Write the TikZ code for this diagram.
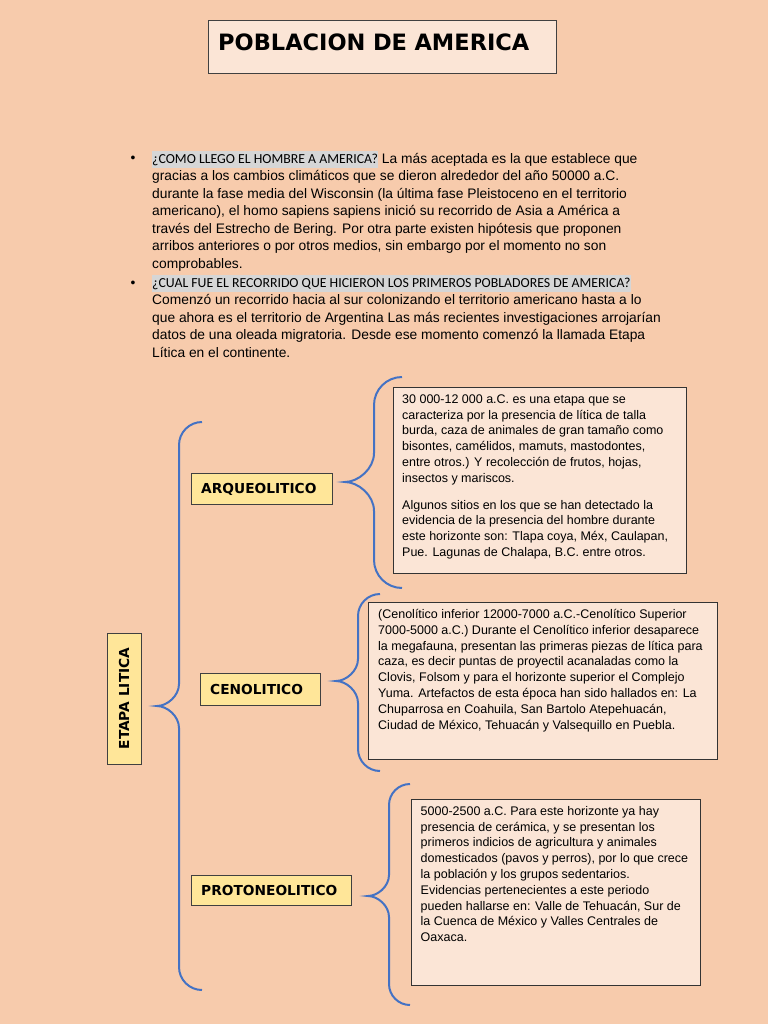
\documentclass[tikz,border=0pt]{standalone}
\usepackage{fontspec}
\setmainfont{Liberation Sans}
\newfontfamily\preguntafont{Carlito}
\newfontfamily\headfont{DejaVu Sans}
\usepackage{xcolor}
\definecolor{fondo}{HTML}{F7CBAC}
\definecolor{caja}{HTML}{FBE5D6}
\definecolor{amarillo}{HTML}{FFE699}
\definecolor{azul}{HTML}{4472C4}
\definecolor{resalte}{HTML}{D6D6D6}
\usepackage{tikz}

% pregunta resaltada en gris
\newcommand{\pregunta}[1]{{\setlength{\fboxsep}{0pt}\colorbox{resalte}{\strut\preguntafont #1}}}
% llave: x recta, arriba, punta y, abajo, punta x, extremos x
\newcommand{\llave}[6]{%
  \pgfmathsetmacro{\llR}{#6-#1}%
  \pgfmathsetmacro{\llD}{#1-#5}%
  \draw[llave] (#6,#2) .. controls ({#1+0.45*\llR},#2) and (#1,{#2+0.45*\llR}) .. (#1,{#2+\llR})
    -- (#1,{#3-\llD}) .. controls (#1,{#3-0.45*\llD}) and ({#5+0.45*\llD},#3) .. (#5,#3)
    .. controls ({#5+0.45*\llD},#3) and (#1,{#3+0.45*\llD}) .. (#1,{#3+\llD})
    -- (#1,{#4-\llR}) .. controls (#1,{#4-0.45*\llR}) and ({#1+0.45*\llR},#4) .. (#6,#4);
}

\begin{document}
\begin{tikzpicture}[x=1pt, y=-1pt,
    titulo/.style={rectangle, draw=black!75, fill=caja, anchor=north west,
                   minimum width=348pt, minimum height=53pt, text width=328pt,
                   inner xsep=10pt, align=left, text height=16.5pt, text depth=9pt,
                   font=\headfont\bfseries\fontsize{22.5}{26}\selectfont},
    etapa/.style={rectangle, draw=black!75, fill=amarillo, anchor=north west,
                  inner xsep=10pt, inner ysep=0pt, align=left, text depth=0pt,
                  font=\headfont\bfseries\fontsize{13.75}{16}\selectfont},
    info/.style={rectangle, draw=black!80, fill=caja, anchor=north west, line width=0.9pt},
    texto/.style={anchor=north west, inner sep=0pt, align=left,
                  font=\fontsize{12.5}{15.8}\selectfont},
    parrafo/.style={anchor=north west, inner sep=0pt, align=left,
                    font=\fontsize{13.8}{17.5}\selectfont},
    vineta/.style={anchor=base, inner sep=0pt, font=\fontsize{13.8}{17.5}\selectfont},
    llave/.style={draw=azul, line width=2pt}]
  \useasboundingbox (0,0) rectangle (768,1024);
  \fill[fondo] (0,0) rectangle (768,1024);

  \node[titulo] (titulo) at (208,20) {POBLACION DE AMERICA};

  % preguntas
  \node[vineta] (vineta1) at (133,163) {\textbullet};
  \node[parrafo] (resp1) at (152,150.75) {\pregunta{¿COMO LLEGO EL HOMBRE A AMERICA?} La más aceptada es la que establece que\\
    gracias a los cambios climáticos que se dieron alrededor del año 50000 a.C.\\
    durante la fase media del Wisconsin (la última fase Pleistoceno en el territorio\\
    americano), el homo sapiens sapiens inició su recorrido de Asia a América a\\
    través del Estrecho de Bering. Por otra parte existen hipótesis que proponen\\
    arribos anteriores o por otros medios, sin embargo por el momento no son\\
    comprobables.};
  \node[vineta] (vineta2) at (133,287) {\textbullet};
  \node[parrafo] (resp2) at (152,274.75) {\pregunta{¿CUAL FUE EL RECORRIDO QUE HICIERON LOS PRIMEROS POBLADORES DE AMERICA?}\\
    Comenzó un recorrido hacia al sur colonizando el territorio americano hasta a lo\\
    que ahora es el territorio de Argentina Las más recientes investigaciones arrojarían\\
    datos de una oleada migratoria. Desde ese momento comenzó la llamada Etapa\\
    Lítica en el continente.};

  % etapas
  \node[etapa, anchor=center, rotate=90, minimum width=131pt, minimum height=34pt,
        align=center] (lit) at (124,698.5) {ETAPA LITICA};
  \node[etapa, text width=121pt, minimum height=31pt] (arq) at (191,473) {ARQUEOLITICO};
  \node[etapa, text width=100pt, minimum height=32pt] (ceno) at (200,673) {CENOLITICO};
  \node[etapa, text width=140pt, minimum height=30pt] (proto) at (191,875) {PROTONEOLITICO};

  % cuadros de texto
  \node[info, minimum width=293pt, minimum height=186pt] (arqbox) at (393,387) {};
  \node[texto] (arqtxt) at ([shift={(9,5)}]arqbox.north west) {\strut 30 000-12 000 a.C. es una etapa que se\\
    caracteriza por la presencia de lítica de talla\\
    burda, caza de animales de gran tamaño como\\
    bisontes, camélidos, mamuts, mastodontes,\\
    entre otros.) Y recolección de frutos, hojas,\\
    insectos y mariscos.\\[11pt]
    Algunos sitios en los que se han detectado la\\
    evidencia de la presencia del hombre durante\\
    este horizonte son: Tlapa coya, Méx, Caulapan,\\
    Pue. Lagunas de Chalapa, B.C. entre otros.};
  \node[info, minimum width=349pt, minimum height=157pt] (cenobox) at (368,602) {};
  \node[texto] (cenotxt) at ([shift={(10,5.3)}]cenobox.north west) {\strut (Cenolítico inferior 12000-7000 a.C.-Cenolítico Superior\\
    7000-5000 a.C.) Durante el Cenolítico inferior desaparece\\
    la megafauna, presentan las primeras piezas de lítica para\\
    caza, es decir puntas de proyectil acanaladas como la\\
    Clovis, Folsom y para el horizonte superior el Complejo\\
    Yuma. Artefactos de esta época han sido hallados en: La\\
    Chuparrosa en Coahuila, San Bartolo Atepehuacán,\\
    Ciudad de México, Tehuacán y Valsequillo en Puebla.};
  \node[info, minimum width=289pt, minimum height=186pt] (protobox) at (411,799) {};
  \node[texto] (prototxt) at ([shift={(9.5,5)}]protobox.north west) {\strut 5000-2500 a.C. Para este horizonte ya hay\\
    presencia de cerámica, y se presentan los\\
    primeros indicios de agricultura y animales\\
    domesticados (pavos y perros), por lo que crece\\
    la población y los grupos sedentarios.\\
    Evidencias pertenecientes a este periodo\\
    pueden hallarse en: Valle de Tehuacán, Sur de\\
    la Cuenca de México y Valles Centrales de\\
    Oaxaca.};

  % llaves
  \llave{179}{422}{706}{990}{157}{202}
  \llave{374}{377}{482}{588}{345}{402}
  \llave{358}{594}{681}{771}{336}{380}
  \llave{389}{784}{896}{1005}{368}{410}
\end{tikzpicture}
\end{document}
